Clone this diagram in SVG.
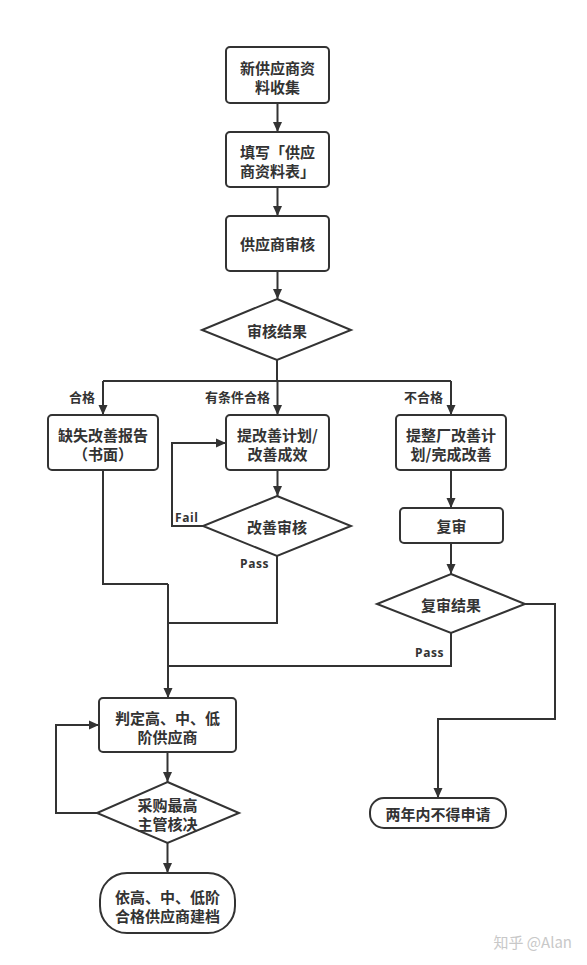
<svg xmlns="http://www.w3.org/2000/svg" width="587" height="965" viewBox="0 0 587 965">
<style>
.n{fill:#fff;stroke:#333;stroke-width:2}
.t{font-family:"Noto Sans CJK SC","Noto Sans",sans-serif;font-weight:bold;font-size:15px;fill:#333;text-anchor:middle;dominant-baseline:central}
.l{font-family:"Noto Sans CJK SC","Noto Sans",sans-serif;font-weight:bold;font-size:13px;fill:#333;text-anchor:end;dominant-baseline:central}
.e{font-family:"Open Sans","Liberation Sans",sans-serif;font-weight:bold;font-size:12px;fill:#333;dominant-baseline:central;letter-spacing:0.6px}
.c{fill:none;stroke:#333;stroke-width:2}
.a{marker-end:url(#ah)}
</style>
<defs>
<marker id="ah" viewBox="0 0 10 10" refX="10" refY="5" markerWidth="10" markerHeight="10" markerUnits="userSpaceOnUse" orient="auto">
<path d="M0,0.5 L10,5 L0,9.5 Z" fill="#333"/>
</marker>
</defs>
<rect width="587" height="965" fill="#fff"/>
<g id="connectors">
<path class="c a" d="M277.5,103 V132"/>
<path class="c a" d="M277.5,187 V216"/>
<path class="c a" d="M277.5,271 V299"/>
<path class="c" d="M277,360 V381"/>
<path class="c a" d="M103,381 V415"/>
<path class="c a" d="M277.5,381 V415"/>
<path class="c a" d="M451,381 V415"/>
<path class="c" d="M103,381 H451"/>
<path class="c a" d="M277.5,470 V496"/>
<path class="c a" d="M203,526 H172 V443 H226"/>
<path class="c" d="M277,556 V623 H168"/>
<path class="c" d="M103,470 V584 H168"/>
<path class="c a" d="M168,584 V698"/>
<path class="c a" d="M451,470 V508"/>
<path class="c a" d="M451,543 V574"/>
<path class="c" d="M451,633 V666 H168"/>
<path class="c a" d="M525,604 H555 V719 H438 V798"/>
<path class="c a" d="M167.5,752 V782"/>
<path class="c a" d="M97,813 H56 V725 H99"/>
<path class="c a" d="M167.5,843 V873"/>
</g>
<g id="labels">
<text class="l" x="95" y="396">合格</text>
<text class="l" x="270" y="396">有条件合格</text>
<text class="l" x="443" y="396">不合格</text>
<text class="e" x="175" y="517">Fail</text>
<text class="e" x="240" y="563">Pass</text>
<text class="e" x="415" y="652">Pass</text>
</g>
<g id="n1"><rect class="n" x="226" y="47" width="103" height="56" rx="4"/><text class="t" x="277.5" y="67">新供应商资</text><text class="t" x="277.5" y="86">料收集</text></g>
<g id="n2"><rect class="n" x="226" y="132" width="103" height="55" rx="4"/><text class="t" x="277.5" y="151">填写「供应</text><text class="t" x="277.5" y="170">商资料表」</text></g>
<g id="n3"><rect class="n" x="226" y="216" width="103" height="55" rx="4"/><text class="t" x="277.5" y="243.5">供应商审核</text></g>
<g id="d1"><polygon class="n" points="277,299 351,330 277,360 202,330"/><text class="t" x="277" y="330">审核结果</text></g>
<g id="n4"><rect class="n" x="48" y="415" width="110" height="55" rx="4"/><text class="t" x="103" y="434">缺失改善报告</text><text class="t" x="103" y="453">（书面）</text></g>
<g id="n5"><rect class="n" x="226" y="415" width="103" height="55" rx="4"/><text class="t" x="277.5" y="434">提改善计划/</text><text class="t" x="277.5" y="453">改善成效</text></g>
<g id="n6"><rect class="n" x="396" y="415" width="110" height="55" rx="4"/><text class="t" x="451" y="434">提整厂改善计</text><text class="t" x="451" y="453">划/完成改善</text></g>
<g id="d2"><polygon class="n" points="277,496 351,526 277,556 203,526"/><text class="t" x="277" y="526">改善审核</text></g>
<g id="n7"><rect class="n" x="400" y="508" width="103" height="35" rx="4"/><text class="t" x="451.5" y="525.5">复审</text></g>
<g id="d3"><polygon class="n" points="451,574 525,604 451,633 377,604"/><text class="t" x="451" y="604">复审结果</text></g>
<g id="n8"><rect class="n" x="99" y="698" width="137" height="54" rx="4"/><text class="t" x="167.5" y="717">判定高、中、低</text><text class="t" x="167.5" y="736">阶供应商</text></g>
<g id="d4"><polygon class="n" points="167.5,782 239,813 167.5,843 97,813"/><text class="t" x="167.5" y="804">采购最高</text><text class="t" x="167.5" y="823">主管核决</text></g>
<g id="n9"><rect class="n" x="100" y="873" width="135" height="60" rx="27"/><text class="t" x="167.5" y="896">依高、中、低阶</text><text class="t" x="167.5" y="915">合格供应商建档</text></g>
<g id="n10"><rect class="n" x="370" y="798" width="136" height="30" rx="14"/><text class="t" x="438" y="813">两年内不得申请</text></g>
<text x="572" y="941" font-family="'Noto Sans CJK SC','Noto Sans',sans-serif" font-size="15" fill="#c8c8c8" text-anchor="end" dominant-baseline="central">知乎 @Alan</text>
</svg>
